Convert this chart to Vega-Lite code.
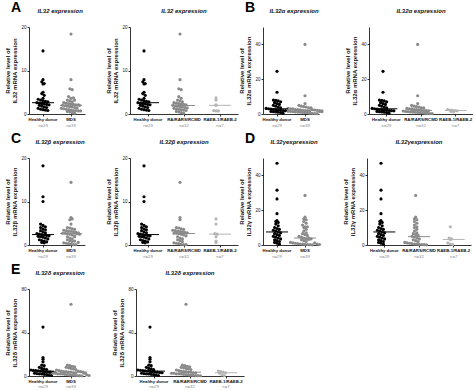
{
"$schema": "https://vega.github.io/schema/vega-lite/v6.json",
"padding": {"left": 4, "top": 1, "right": 0, "bottom": 0},
"background": "white",
"config": {
 "font": "Liberation Sans",
 "view": {"stroke": null},
 "axis": {"grid": false, "domainColor": "#000", "domainWidth": 0.8, "tickColor": "#000", "tickSize": 2, "tickWidth": 0.8, "labelFontSize": 4.5, "labelColor": "#111", "labelPadding": 1, "titleFontSize": 6, "titleFontWeight": "bold", "titleColor": "#111", "titleLineHeight": 7, "titlePadding": 3, "labelOverlap": false, "labelFlush": false},
 "axisX": {"labelAngle": 0, "labelFontSize": 4.3, "labelFontWeight": "bold", "labelBaseline": "top"}
},
"datasets": {"expr": [
{"gene":"IL32","group":"HD","v":14.5},{"gene":"IL32","group":"HD","v":7.9},{"gene":"IL32","group":"HD","v":7.4},{"gene":"IL32","group":"HD","v":7.0},{"gene":"IL32","group":"HD","v":6.9},{"gene":"IL32","group":"HD","v":5.0},{"gene":"IL32","group":"HD","v":4.7},{"gene":"IL32","group":"HD","v":4.3},{"gene":"IL32","group":"HD","v":3.6},{"gene":"IL32","group":"HD","v":3.4},{"gene":"IL32","group":"HD","v":3.2},{"gene":"IL32","group":"HD","v":3.0},{"gene":"IL32","group":"HD","v":2.9},{"gene":"IL32","group":"HD","v":2.8},{"gene":"IL32","group":"HD","v":2.6},{"gene":"IL32","group":"HD","v":2.5},{"gene":"IL32","group":"HD","v":2.4},{"gene":"IL32","group":"HD","v":2.3},{"gene":"IL32","group":"HD","v":2.2},{"gene":"IL32","group":"HD","v":2.1},{"gene":"IL32","group":"HD","v":2.0},{"gene":"IL32","group":"HD","v":1.8},{"gene":"IL32","group":"HD","v":1.6},{"gene":"IL32","group":"HD","v":1.5},{"gene":"IL32","group":"HD","v":1.3},{"gene":"IL32","group":"HD","v":1.1},{"gene":"IL32","group":"HD","v":1.0},{"gene":"IL32","group":"HD","v":0.9},{"gene":"IL32","group":"HD","v":0.8},
{"gene":"IL32","group":"RA","v":18.4},{"gene":"IL32","group":"RA","v":7.9},{"gene":"IL32","group":"RA","v":5.8},{"gene":"IL32","group":"RA","v":5.6},{"gene":"IL32","group":"RA","v":4.0},{"gene":"IL32","group":"RA","v":3.6},{"gene":"IL32","group":"RA","v":3.2},{"gene":"IL32","group":"RA","v":3.0},{"gene":"IL32","group":"RA","v":2.8},{"gene":"IL32","group":"RA","v":2.6},{"gene":"IL32","group":"RA","v":2.5},{"gene":"IL32","group":"RA","v":2.4},{"gene":"IL32","group":"RA","v":2.3},{"gene":"IL32","group":"RA","v":2.2},{"gene":"IL32","group":"RA","v":2.1},{"gene":"IL32","group":"RA","v":2.0},{"gene":"IL32","group":"RA","v":1.9},{"gene":"IL32","group":"RA","v":1.8},{"gene":"IL32","group":"RA","v":1.7},{"gene":"IL32","group":"RA","v":1.6},{"gene":"IL32","group":"RA","v":1.5},{"gene":"IL32","group":"RA","v":1.4},{"gene":"IL32","group":"RA","v":1.3},{"gene":"IL32","group":"RA","v":1.2},{"gene":"IL32","group":"RA","v":1.1},{"gene":"IL32","group":"RA","v":1.0},{"gene":"IL32","group":"RA","v":0.9},{"gene":"IL32","group":"RA","v":0.8},{"gene":"IL32","group":"RA","v":0.6},{"gene":"IL32","group":"RA","v":0.5},{"gene":"IL32","group":"RA","v":0.3},{"gene":"IL32","group":"RA","v":0.2},
{"gene":"IL32","group":"RAEB","v":3.7},{"gene":"IL32","group":"RAEB","v":3.2},{"gene":"IL32","group":"RAEB","v":2.1},{"gene":"IL32","group":"RAEB","v":2.0},{"gene":"IL32","group":"RAEB","v":0.8},{"gene":"IL32","group":"RAEB","v":0.7},{"gene":"IL32","group":"RAEB","v":0.7},
{"gene":"IL32a","group":"HD","v":24.5},{"gene":"IL32a","group":"HD","v":12.5},{"gene":"IL32a","group":"HD","v":8.0},{"gene":"IL32a","group":"HD","v":7.8},{"gene":"IL32a","group":"HD","v":7.5},{"gene":"IL32a","group":"HD","v":7.0},{"gene":"IL32a","group":"HD","v":6.5},{"gene":"IL32a","group":"HD","v":6.0},{"gene":"IL32a","group":"HD","v":5.5},{"gene":"IL32a","group":"HD","v":5.0},{"gene":"IL32a","group":"HD","v":4.5},{"gene":"IL32a","group":"HD","v":4.0},{"gene":"IL32a","group":"HD","v":3.5},{"gene":"IL32a","group":"HD","v":3.2},{"gene":"IL32a","group":"HD","v":3.0},{"gene":"IL32a","group":"HD","v":2.8},{"gene":"IL32a","group":"HD","v":2.6},{"gene":"IL32a","group":"HD","v":2.5},{"gene":"IL32a","group":"HD","v":2.3},{"gene":"IL32a","group":"HD","v":2.2},{"gene":"IL32a","group":"HD","v":2.0},{"gene":"IL32a","group":"HD","v":1.9},{"gene":"IL32a","group":"HD","v":1.8},{"gene":"IL32a","group":"HD","v":1.5},{"gene":"IL32a","group":"HD","v":1.3},{"gene":"IL32a","group":"HD","v":1.2},{"gene":"IL32a","group":"HD","v":1.0},{"gene":"IL32a","group":"HD","v":0.8},{"gene":"IL32a","group":"HD","v":0.5},
{"gene":"IL32a","group":"RA","v":40},{"gene":"IL32a","group":"RA","v":10.5},{"gene":"IL32a","group":"RA","v":6.0},{"gene":"IL32a","group":"RA","v":5.0},{"gene":"IL32a","group":"RA","v":4.5},{"gene":"IL32a","group":"RA","v":4.2},{"gene":"IL32a","group":"RA","v":4.0},{"gene":"IL32a","group":"RA","v":3.6},{"gene":"IL32a","group":"RA","v":3.5},{"gene":"IL32a","group":"RA","v":3.2},{"gene":"IL32a","group":"RA","v":3.0},{"gene":"IL32a","group":"RA","v":3.0},{"gene":"IL32a","group":"RA","v":2.6},{"gene":"IL32a","group":"RA","v":2.5},{"gene":"IL32a","group":"RA","v":2.4},{"gene":"IL32a","group":"RA","v":2.1},{"gene":"IL32a","group":"RA","v":2.0},{"gene":"IL32a","group":"RA","v":1.9},{"gene":"IL32a","group":"RA","v":1.8},{"gene":"IL32a","group":"RA","v":1.7},{"gene":"IL32a","group":"RA","v":1.5},{"gene":"IL32a","group":"RA","v":1.4},{"gene":"IL32a","group":"RA","v":1.2},{"gene":"IL32a","group":"RA","v":1.1},{"gene":"IL32a","group":"RA","v":1.0},{"gene":"IL32a","group":"RA","v":0.9},{"gene":"IL32a","group":"RA","v":0.8},{"gene":"IL32a","group":"RA","v":0.7},{"gene":"IL32a","group":"RA","v":0.5},{"gene":"IL32a","group":"RA","v":0.4},{"gene":"IL32a","group":"RA","v":0.3},{"gene":"IL32a","group":"RA","v":0.2},
{"gene":"IL32a","group":"RAEB","v":2.6},{"gene":"IL32a","group":"RAEB","v":2.3},{"gene":"IL32a","group":"RAEB","v":2.1},{"gene":"IL32a","group":"RAEB","v":2.0},{"gene":"IL32a","group":"RAEB","v":1.8},{"gene":"IL32a","group":"RAEB","v":1.5},{"gene":"IL32a","group":"RAEB","v":1.3},
{"gene":"IL32b","group":"HD","v":18.2},{"gene":"IL32b","group":"HD","v":11.1},{"gene":"IL32b","group":"HD","v":10.0},{"gene":"IL32b","group":"HD","v":4.8},{"gene":"IL32b","group":"HD","v":4.5},{"gene":"IL32b","group":"HD","v":4.2},{"gene":"IL32b","group":"HD","v":4.0},{"gene":"IL32b","group":"HD","v":3.7},{"gene":"IL32b","group":"HD","v":3.5},{"gene":"IL32b","group":"HD","v":3.3},{"gene":"IL32b","group":"HD","v":3.0},{"gene":"IL32b","group":"HD","v":2.8},{"gene":"IL32b","group":"HD","v":2.6},{"gene":"IL32b","group":"HD","v":2.5},{"gene":"IL32b","group":"HD","v":2.4},{"gene":"IL32b","group":"HD","v":2.3},{"gene":"IL32b","group":"HD","v":2.2},{"gene":"IL32b","group":"HD","v":2.1},{"gene":"IL32b","group":"HD","v":2.0},{"gene":"IL32b","group":"HD","v":1.9},{"gene":"IL32b","group":"HD","v":1.8},{"gene":"IL32b","group":"HD","v":1.6},{"gene":"IL32b","group":"HD","v":1.4},{"gene":"IL32b","group":"HD","v":1.2},{"gene":"IL32b","group":"HD","v":1.0},{"gene":"IL32b","group":"HD","v":0.9},{"gene":"IL32b","group":"HD","v":0.7},{"gene":"IL32b","group":"HD","v":0.6},{"gene":"IL32b","group":"HD","v":0.5},
{"gene":"IL32b","group":"RA","v":14.4},{"gene":"IL32b","group":"RA","v":6.3},{"gene":"IL32b","group":"RA","v":5.8},{"gene":"IL32b","group":"RA","v":4.0},{"gene":"IL32b","group":"RA","v":3.9},{"gene":"IL32b","group":"RA","v":3.7},{"gene":"IL32b","group":"RA","v":3.6},{"gene":"IL32b","group":"RA","v":3.4},{"gene":"IL32b","group":"RA","v":3.3},{"gene":"IL32b","group":"RA","v":3.2},{"gene":"IL32b","group":"RA","v":3.1},{"gene":"IL32b","group":"RA","v":3.0},{"gene":"IL32b","group":"RA","v":2.9},{"gene":"IL32b","group":"RA","v":2.8},{"gene":"IL32b","group":"RA","v":2.7},{"gene":"IL32b","group":"RA","v":2.7},{"gene":"IL32b","group":"RA","v":2.6},{"gene":"IL32b","group":"RA","v":2.5},{"gene":"IL32b","group":"RA","v":2.3},{"gene":"IL32b","group":"RA","v":2.1},{"gene":"IL32b","group":"RA","v":1.9},{"gene":"IL32b","group":"RA","v":1.6},{"gene":"IL32b","group":"RA","v":1.4},{"gene":"IL32b","group":"RA","v":1.2},{"gene":"IL32b","group":"RA","v":1.0},{"gene":"IL32b","group":"RA","v":0.8},{"gene":"IL32b","group":"RA","v":0.5},{"gene":"IL32b","group":"RA","v":0.4},{"gene":"IL32b","group":"RA","v":0.3},{"gene":"IL32b","group":"RA","v":0.2},{"gene":"IL32b","group":"RA","v":0.1},{"gene":"IL32b","group":"RA","v":0.1},
{"gene":"IL32b","group":"RAEB","v":6.0},{"gene":"IL32b","group":"RAEB","v":4.8},{"gene":"IL32b","group":"RAEB","v":2.6},{"gene":"IL32b","group":"RAEB","v":2.5},{"gene":"IL32b","group":"RAEB","v":1.9},{"gene":"IL32b","group":"RAEB","v":0.9},{"gene":"IL32b","group":"RAEB","v":0.6},
{"gene":"IL32g","group":"HD","v":47},{"gene":"IL32g","group":"HD","v":31.5},{"gene":"IL32g","group":"HD","v":26.5},{"gene":"IL32g","group":"HD","v":18},{"gene":"IL32g","group":"HD","v":14},{"gene":"IL32g","group":"HD","v":13.5},{"gene":"IL32g","group":"HD","v":13},{"gene":"IL32g","group":"HD","v":12},{"gene":"IL32g","group":"HD","v":11},{"gene":"IL32g","group":"HD","v":10},{"gene":"IL32g","group":"HD","v":9.5},{"gene":"IL32g","group":"HD","v":9},{"gene":"IL32g","group":"HD","v":8.5},{"gene":"IL32g","group":"HD","v":8},{"gene":"IL32g","group":"HD","v":7.5},{"gene":"IL32g","group":"HD","v":7},{"gene":"IL32g","group":"HD","v":6.5},{"gene":"IL32g","group":"HD","v":6},{"gene":"IL32g","group":"HD","v":5.5},{"gene":"IL32g","group":"HD","v":5},{"gene":"IL32g","group":"HD","v":4.5},{"gene":"IL32g","group":"HD","v":4},{"gene":"IL32g","group":"HD","v":3.5},{"gene":"IL32g","group":"HD","v":3},{"gene":"IL32g","group":"HD","v":2.5},{"gene":"IL32g","group":"HD","v":2},{"gene":"IL32g","group":"HD","v":1.5},{"gene":"IL32g","group":"HD","v":1},{"gene":"IL32g","group":"HD","v":0.5},
{"gene":"IL32g","group":"RA","v":28.5},{"gene":"IL32g","group":"RA","v":16},{"gene":"IL32g","group":"RA","v":15},{"gene":"IL32g","group":"RA","v":14.5},{"gene":"IL32g","group":"RA","v":13.5},{"gene":"IL32g","group":"RA","v":12.5},{"gene":"IL32g","group":"RA","v":11.5},{"gene":"IL32g","group":"RA","v":10.5},{"gene":"IL32g","group":"RA","v":10},{"gene":"IL32g","group":"RA","v":9},{"gene":"IL32g","group":"RA","v":8},{"gene":"IL32g","group":"RA","v":7},{"gene":"IL32g","group":"RA","v":6.5},{"gene":"IL32g","group":"RA","v":6},{"gene":"IL32g","group":"RA","v":5.5},{"gene":"IL32g","group":"RA","v":5},{"gene":"IL32g","group":"RA","v":4.6},{"gene":"IL32g","group":"RA","v":4},{"gene":"IL32g","group":"RA","v":3.5},{"gene":"IL32g","group":"RA","v":3},{"gene":"IL32g","group":"RA","v":2.5},{"gene":"IL32g","group":"RA","v":2},{"gene":"IL32g","group":"RA","v":1.5},{"gene":"IL32g","group":"RA","v":1.2},{"gene":"IL32g","group":"RA","v":1},{"gene":"IL32g","group":"RA","v":0.8},{"gene":"IL32g","group":"RA","v":0.6},{"gene":"IL32g","group":"RA","v":0.5},{"gene":"IL32g","group":"RA","v":0.4},{"gene":"IL32g","group":"RA","v":0.3},{"gene":"IL32g","group":"RA","v":0.2},{"gene":"IL32g","group":"RA","v":0.1},
{"gene":"IL32g","group":"RAEB","v":10.5},{"gene":"IL32g","group":"RAEB","v":4},{"gene":"IL32g","group":"RAEB","v":3.5},{"gene":"IL32g","group":"RAEB","v":3.2},{"gene":"IL32g","group":"RAEB","v":1.2},{"gene":"IL32g","group":"RAEB","v":0.6},{"gene":"IL32g","group":"RAEB","v":0.3},
{"gene":"IL32d","group":"HD","v":45},{"gene":"IL32d","group":"HD","v":17},{"gene":"IL32d","group":"HD","v":15.5},{"gene":"IL32d","group":"HD","v":13},{"gene":"IL32d","group":"HD","v":10},{"gene":"IL32d","group":"HD","v":9.5},{"gene":"IL32d","group":"HD","v":8},{"gene":"IL32d","group":"HD","v":7},{"gene":"IL32d","group":"HD","v":6.5},{"gene":"IL32d","group":"HD","v":6},{"gene":"IL32d","group":"HD","v":5.5},{"gene":"IL32d","group":"HD","v":5.2},{"gene":"IL32d","group":"HD","v":5},{"gene":"IL32d","group":"HD","v":4.8},{"gene":"IL32d","group":"HD","v":4.5},{"gene":"IL32d","group":"HD","v":4.2},{"gene":"IL32d","group":"HD","v":4},{"gene":"IL32d","group":"HD","v":3.8},{"gene":"IL32d","group":"HD","v":3.5},{"gene":"IL32d","group":"HD","v":3.2},{"gene":"IL32d","group":"HD","v":3},{"gene":"IL32d","group":"HD","v":2.5},{"gene":"IL32d","group":"HD","v":2.2},{"gene":"IL32d","group":"HD","v":2},{"gene":"IL32d","group":"HD","v":1.8},{"gene":"IL32d","group":"HD","v":1.5},{"gene":"IL32d","group":"HD","v":1.2},{"gene":"IL32d","group":"HD","v":1},{"gene":"IL32d","group":"HD","v":0.5},
{"gene":"IL32d","group":"RA","v":66},{"gene":"IL32d","group":"RA","v":10},{"gene":"IL32d","group":"RA","v":9.5},{"gene":"IL32d","group":"RA","v":9},{"gene":"IL32d","group":"RA","v":8.5},{"gene":"IL32d","group":"RA","v":8},{"gene":"IL32d","group":"RA","v":7.5},{"gene":"IL32d","group":"RA","v":7},{"gene":"IL32d","group":"RA","v":6.5},{"gene":"IL32d","group":"RA","v":6},{"gene":"IL32d","group":"RA","v":5.5},{"gene":"IL32d","group":"RA","v":5},{"gene":"IL32d","group":"RA","v":4.5},{"gene":"IL32d","group":"RA","v":4},{"gene":"IL32d","group":"RA","v":4},{"gene":"IL32d","group":"RA","v":3.5},{"gene":"IL32d","group":"RA","v":3.5},{"gene":"IL32d","group":"RA","v":3},{"gene":"IL32d","group":"RA","v":3},{"gene":"IL32d","group":"RA","v":2.5},{"gene":"IL32d","group":"RA","v":2.5},{"gene":"IL32d","group":"RA","v":2},{"gene":"IL32d","group":"RA","v":2},{"gene":"IL32d","group":"RA","v":1.8},{"gene":"IL32d","group":"RA","v":1.5},{"gene":"IL32d","group":"RA","v":1.2},{"gene":"IL32d","group":"RA","v":1},{"gene":"IL32d","group":"RA","v":0.8},{"gene":"IL32d","group":"RA","v":0.6},{"gene":"IL32d","group":"RA","v":0.5},{"gene":"IL32d","group":"RA","v":0.3},{"gene":"IL32d","group":"RA","v":0.2},
{"gene":"IL32d","group":"RAEB","v":4.5},{"gene":"IL32d","group":"RAEB","v":4},{"gene":"IL32d","group":"RAEB","v":3.5},{"gene":"IL32d","group":"RAEB","v":3},{"gene":"IL32d","group":"RAEB","v":2.5},{"gene":"IL32d","group":"RAEB","v":1},{"gene":"IL32d","group":"RAEB","v":0.5}
]},
"vconcat": [
 {"hconcat": [
  {"hconcat": [
    {"width": 56, "height": 87, "data": {"name": "expr"},
     "transform": [{"filter": "datum.gene == 'IL32'"}, {"calculate": "datum.group == 'HD' ? 'HD' : 'MDS'", "as": "g"}, {"calculate": "floor(datum.v / 0.7)", "as": "bin"}, {"window": [{"op": "row_number", "as": "k"}, {"op": "count", "as": "n"}], "groupby": ["g", "bin"], "frame": [null, null]}, {"calculate": "datum.k - (datum.n + 1) / 2", "as": "off"}],
     "encoding": {"x": {"field": "g", "type": "nominal", "sort": ["HD", "MDS"], "scale": {"paddingInner": 0, "paddingOuter": 0}, "axis": {"title": null, "labelExpr": "datum.value == 'HD' ? 'Healthy donor' : datum.value == 'MDS' ? 'MDS' : datum.value == 'RA' ? 'RA/RARS/RCMD' : 'RAEB-1/RAEB-2'"}},
      "color": {"field": "g", "type": "nominal", "legend": null, "scale": {"domain": ["HD", "MDS", "RA", "RAEB"], "range": ["#000000", "#8a8a8a", "#8a8a8a", "#b5b5b5"]}}},
     "layer": [
      {"mark": {"type": "circle", "size": 10, "opacity": 1}, "encoding": {"xOffset": {"field": "off", "type": "quantitative", "scale": {"domain": [-4.5, 4.5], "nice": false, "zero": false}}, "y": {"field": "v", "type": "quantitative", "scale": {"domain": [0, 20], "nice": false}, "axis": {"values": [0, 5, 10, 15, 20], "title": ["Relative level of", "IL32 mRNA expression"]}}}},
      {"mark": {"type": "tick", "size": 22, "thickness": 1}, "encoding": {"y": {"aggregate": "median", "field": "v", "type": "quantitative", "axis": {"values": [0, 5, 10, 15, 20], "title": ["Relative level of", "IL32 mRNA expression"]}}}},
      {"transform": [{"aggregate": [{"op": "count", "as": "cnt"}], "groupby": ["g"]}, {"calculate": "'n=' + datum.cnt", "as": "lab"}], "mark": {"type": "text", "fontSize": 4.3, "baseline": "top", "clip": false}, "encoding": {"y": {"datum": -2.2}, "text": {"field": "lab"}, "color": {"value": "#8c8c8c"}}},
      {"transform": [{"aggregate": [{"op": "count", "as": "c"}]}], "mark": {"type": "text", "fontSize": 6, "fontStyle": "italic", "fontWeight": "bold", "baseline": "middle", "clip": false}, "encoding": {"x": {"datum": "MDS"}, "xOffset": {"datum": -4.5}, "y": {"datum": 23.7}, "text": {"value": "IL32 expression"}, "color": {"value": "#111"}}},
      {"transform": [{"aggregate": [{"op": "count", "as": "c"}]}], "mark": {"type": "text", "fontSize": 14, "fontWeight": "bold", "align": "left", "baseline": "alphabetic", "clip": false}, "encoding": {"x": {"datum": "HD"}, "xOffset": {"datum": -13.3}, "y": {"datum": 23.4}, "text": {"value": "A"}, "color": {"value": "#000"}}}
     ]},
    {"width": 108, "height": 87, "data": {"name": "expr"},
     "transform": [{"filter": "datum.gene == 'IL32'"}, {"calculate": "datum.group", "as": "g"}, {"calculate": "floor(datum.v / 0.7)", "as": "bin"}, {"window": [{"op": "row_number", "as": "k"}, {"op": "count", "as": "n"}], "groupby": ["g", "bin"], "frame": [null, null]}, {"calculate": "datum.k - (datum.n + 1) / 2", "as": "off"}],
     "encoding": {"x": {"field": "g", "type": "nominal", "sort": ["HD", "RA", "RAEB"], "scale": {"paddingInner": 0, "paddingOuter": 0}, "axis": {"title": null, "labelExpr": "datum.value == 'HD' ? 'Healthy donor' : datum.value == 'MDS' ? 'MDS' : datum.value == 'RA' ? 'RA/RARS/RCMD' : 'RAEB-1/RAEB-2'"}},
      "color": {"field": "g", "type": "nominal", "legend": null, "scale": {"domain": ["HD", "MDS", "RA", "RAEB"], "range": ["#000000", "#8a8a8a", "#8a8a8a", "#b5b5b5"]}}},
     "layer": [
      {"mark": {"type": "circle", "size": 10, "opacity": 1}, "encoding": {"xOffset": {"field": "off", "type": "quantitative", "scale": {"domain": [-5.8, 5.8], "nice": false, "zero": false}}, "y": {"field": "v", "type": "quantitative", "scale": {"domain": [0, 20], "nice": false}, "axis": {"values": [0, 5, 10, 15, 20], "title": ["Relative level of", "IL32 mRNA expression"]}}}},
      {"mark": {"type": "tick", "size": 22, "thickness": 1}, "encoding": {"y": {"aggregate": "median", "field": "v", "type": "quantitative", "axis": {"values": [0, 5, 10, 15, 20], "title": ["Relative level of", "IL32 mRNA expression"]}}}},
      {"transform": [{"aggregate": [{"op": "count", "as": "cnt"}], "groupby": ["g"]}, {"calculate": "'n=' + datum.cnt", "as": "lab"}], "mark": {"type": "text", "fontSize": 4.3, "baseline": "top", "clip": false}, "encoding": {"y": {"datum": -2.2}, "text": {"field": "lab"}, "color": {"value": "#8c8c8c"}}},
      {"transform": [{"aggregate": [{"op": "count", "as": "c"}]}], "mark": {"type": "text", "fontSize": 6, "fontStyle": "italic", "fontWeight": "bold", "baseline": "middle", "clip": false}, "encoding": {"x": {"datum": "RA"}, "y": {"datum": 23.7}, "text": {"value": "IL32 expression"}, "color": {"value": "#111"}}}
     ]}
   ], "spacing": 20},
  {"hconcat": [
    {"width": 56, "height": 87, "data": {"name": "expr"},
     "transform": [{"filter": "datum.gene == 'IL32a'"}, {"calculate": "datum.group == 'HD' ? 'HD' : 'MDS'", "as": "g"}, {"calculate": "floor(datum.v / 1.75)", "as": "bin"}, {"window": [{"op": "row_number", "as": "k"}, {"op": "count", "as": "n"}], "groupby": ["g", "bin"], "frame": [null, null]}, {"calculate": "datum.k - (datum.n + 1) / 2", "as": "off"}],
     "encoding": {"x": {"field": "g", "type": "nominal", "sort": ["HD", "MDS"], "scale": {"paddingInner": 0, "paddingOuter": 0}, "axis": {"title": null, "labelExpr": "datum.value == 'HD' ? 'Healthy donor' : datum.value == 'MDS' ? 'MDS' : datum.value == 'RA' ? 'RA/RARS/RCMD' : 'RAEB-1/RAEB-2'"}},
      "color": {"field": "g", "type": "nominal", "legend": null, "scale": {"domain": ["HD", "MDS", "RA", "RAEB"], "range": ["#000000", "#8a8a8a", "#8a8a8a", "#b5b5b5"]}}},
     "layer": [
      {"mark": {"type": "circle", "size": 10, "opacity": 1}, "encoding": {"xOffset": {"field": "off", "type": "quantitative", "scale": {"domain": [-4.5, 4.5], "nice": false, "zero": false}}, "y": {"field": "v", "type": "quantitative", "scale": {"domain": [0, 50], "nice": false}, "axis": {"values": [0, 10, 20, 30, 40, 50], "title": ["Relative level of", "IL32α mRNA expression"]}}}},
      {"mark": {"type": "tick", "size": 22, "thickness": 1}, "encoding": {"y": {"aggregate": "median", "field": "v", "type": "quantitative", "axis": {"values": [0, 10, 20, 30, 40, 50], "title": ["Relative level of", "IL32α mRNA expression"]}}}},
      {"transform": [{"aggregate": [{"op": "count", "as": "cnt"}], "groupby": ["g"]}, {"calculate": "'n=' + datum.cnt", "as": "lab"}], "mark": {"type": "text", "fontSize": 4.3, "baseline": "top", "clip": false}, "encoding": {"y": {"datum": -5.5}, "text": {"field": "lab"}, "color": {"value": "#8c8c8c"}}},
      {"transform": [{"aggregate": [{"op": "count", "as": "c"}]}], "mark": {"type": "text", "fontSize": 6, "fontStyle": "italic", "fontWeight": "bold", "baseline": "middle", "clip": false}, "encoding": {"x": {"datum": "MDS"}, "xOffset": {"datum": -4.5}, "y": {"datum": 59.2}, "text": {"value": "IL32α expression"}, "color": {"value": "#111"}}},
      {"transform": [{"aggregate": [{"op": "count", "as": "c"}]}], "mark": {"type": "text", "fontSize": 14, "fontWeight": "bold", "align": "left", "baseline": "alphabetic", "clip": false}, "encoding": {"x": {"datum": "HD"}, "xOffset": {"datum": -13.3}, "y": {"datum": 58.5}, "text": {"value": "B"}, "color": {"value": "#000"}}}
     ]},
    {"width": 104, "height": 87, "data": {"name": "expr"},
     "transform": [{"filter": "datum.gene == 'IL32a'"}, {"calculate": "datum.group", "as": "g"}, {"calculate": "floor(datum.v / 1.75)", "as": "bin"}, {"window": [{"op": "row_number", "as": "k"}, {"op": "count", "as": "n"}], "groupby": ["g", "bin"], "frame": [null, null]}, {"calculate": "datum.k - (datum.n + 1) / 2", "as": "off"}],
     "encoding": {"x": {"field": "g", "type": "nominal", "sort": ["HD", "RA", "RAEB"], "scale": {"paddingInner": 0, "paddingOuter": 0}, "axis": {"title": null, "labelExpr": "datum.value == 'HD' ? 'Healthy donor' : datum.value == 'MDS' ? 'MDS' : datum.value == 'RA' ? 'RA/RARS/RCMD' : 'RAEB-1/RAEB-2'"}},
      "color": {"field": "g", "type": "nominal", "legend": null, "scale": {"domain": ["HD", "MDS", "RA", "RAEB"], "range": ["#000000", "#8a8a8a", "#8a8a8a", "#b5b5b5"]}}},
     "layer": [
      {"mark": {"type": "circle", "size": 10, "opacity": 1}, "encoding": {"xOffset": {"field": "off", "type": "quantitative", "scale": {"domain": [-5.6, 5.6], "nice": false, "zero": false}}, "y": {"field": "v", "type": "quantitative", "scale": {"domain": [0, 50], "nice": false}, "axis": {"values": [0, 10, 20, 30, 40, 50], "title": ["Relative level of", "IL32α mRNA expression"]}}}},
      {"mark": {"type": "tick", "size": 22, "thickness": 1}, "encoding": {"y": {"aggregate": "median", "field": "v", "type": "quantitative", "axis": {"values": [0, 10, 20, 30, 40, 50], "title": ["Relative level of", "IL32α mRNA expression"]}}}},
      {"transform": [{"aggregate": [{"op": "count", "as": "cnt"}], "groupby": ["g"]}, {"calculate": "'n=' + datum.cnt", "as": "lab"}], "mark": {"type": "text", "fontSize": 4.3, "baseline": "top", "clip": false}, "encoding": {"y": {"datum": -5.5}, "text": {"field": "lab"}, "color": {"value": "#8c8c8c"}}},
      {"transform": [{"aggregate": [{"op": "count", "as": "c"}]}], "mark": {"type": "text", "fontSize": 6, "fontStyle": "italic", "fontWeight": "bold", "baseline": "middle", "clip": false}, "encoding": {"x": {"datum": "RA"}, "y": {"datum": 59.2}, "text": {"value": "IL32α expression"}, "color": {"value": "#111"}}}
     ]}
   ], "spacing": 20}
 ], "spacing": 0},
 {"hconcat": [
  {"hconcat": [
    {"width": 56, "height": 87, "data": {"name": "expr"},
     "transform": [{"filter": "datum.gene == 'IL32b'"}, {"calculate": "datum.group == 'HD' ? 'HD' : 'MDS'", "as": "g"}, {"calculate": "floor(datum.v / 0.7)", "as": "bin"}, {"window": [{"op": "row_number", "as": "k"}, {"op": "count", "as": "n"}], "groupby": ["g", "bin"], "frame": [null, null]}, {"calculate": "datum.k - (datum.n + 1) / 2", "as": "off"}],
     "encoding": {"x": {"field": "g", "type": "nominal", "sort": ["HD", "MDS"], "scale": {"paddingInner": 0, "paddingOuter": 0}, "axis": {"title": null, "labelExpr": "datum.value == 'HD' ? 'Healthy donor' : datum.value == 'MDS' ? 'MDS' : datum.value == 'RA' ? 'RA/RARS/RCMD' : 'RAEB-1/RAEB-2'"}},
      "color": {"field": "g", "type": "nominal", "legend": null, "scale": {"domain": ["HD", "MDS", "RA", "RAEB"], "range": ["#000000", "#8a8a8a", "#8a8a8a", "#b5b5b5"]}}},
     "layer": [
      {"mark": {"type": "circle", "size": 10, "opacity": 1}, "encoding": {"xOffset": {"field": "off", "type": "quantitative", "scale": {"domain": [-4.5, 4.5], "nice": false, "zero": false}}, "y": {"field": "v", "type": "quantitative", "scale": {"domain": [0, 20], "nice": false}, "axis": {"values": [0, 5, 10, 15, 20], "title": ["Relative level of", "IL32β mRNA expression"]}}}},
      {"mark": {"type": "tick", "size": 22, "thickness": 1}, "encoding": {"y": {"aggregate": "median", "field": "v", "type": "quantitative", "axis": {"values": [0, 5, 10, 15, 20], "title": ["Relative level of", "IL32β mRNA expression"]}}}},
      {"transform": [{"aggregate": [{"op": "count", "as": "cnt"}], "groupby": ["g"]}, {"calculate": "'n=' + datum.cnt", "as": "lab"}], "mark": {"type": "text", "fontSize": 4.3, "baseline": "top", "clip": false}, "encoding": {"y": {"datum": -2.2}, "text": {"field": "lab"}, "color": {"value": "#8c8c8c"}}},
      {"transform": [{"aggregate": [{"op": "count", "as": "c"}]}], "mark": {"type": "text", "fontSize": 6, "fontStyle": "italic", "fontWeight": "bold", "baseline": "middle", "clip": false}, "encoding": {"x": {"datum": "MDS"}, "xOffset": {"datum": -4.5}, "y": {"datum": 23.7}, "text": {"value": "IL32β expression"}, "color": {"value": "#111"}}},
      {"transform": [{"aggregate": [{"op": "count", "as": "c"}]}], "mark": {"type": "text", "fontSize": 14, "fontWeight": "bold", "align": "left", "baseline": "alphabetic", "clip": false}, "encoding": {"x": {"datum": "HD"}, "xOffset": {"datum": -13.3}, "y": {"datum": 23.4}, "text": {"value": "C"}, "color": {"value": "#000"}}}
     ]},
    {"width": 108, "height": 87, "data": {"name": "expr"},
     "transform": [{"filter": "datum.gene == 'IL32b'"}, {"calculate": "datum.group", "as": "g"}, {"calculate": "floor(datum.v / 0.7)", "as": "bin"}, {"window": [{"op": "row_number", "as": "k"}, {"op": "count", "as": "n"}], "groupby": ["g", "bin"], "frame": [null, null]}, {"calculate": "datum.k - (datum.n + 1) / 2", "as": "off"}],
     "encoding": {"x": {"field": "g", "type": "nominal", "sort": ["HD", "RA", "RAEB"], "scale": {"paddingInner": 0, "paddingOuter": 0}, "axis": {"title": null, "labelExpr": "datum.value == 'HD' ? 'Healthy donor' : datum.value == 'MDS' ? 'MDS' : datum.value == 'RA' ? 'RA/RARS/RCMD' : 'RAEB-1/RAEB-2'"}},
      "color": {"field": "g", "type": "nominal", "legend": null, "scale": {"domain": ["HD", "MDS", "RA", "RAEB"], "range": ["#000000", "#8a8a8a", "#8a8a8a", "#b5b5b5"]}}},
     "layer": [
      {"mark": {"type": "circle", "size": 10, "opacity": 1}, "encoding": {"xOffset": {"field": "off", "type": "quantitative", "scale": {"domain": [-5.8, 5.8], "nice": false, "zero": false}}, "y": {"field": "v", "type": "quantitative", "scale": {"domain": [0, 20], "nice": false}, "axis": {"values": [0, 5, 10, 15, 20], "title": ["Relative level of", "IL32β mRNA expression"]}}}},
      {"mark": {"type": "tick", "size": 22, "thickness": 1}, "encoding": {"y": {"aggregate": "median", "field": "v", "type": "quantitative", "axis": {"values": [0, 5, 10, 15, 20], "title": ["Relative level of", "IL32β mRNA expression"]}}}},
      {"transform": [{"aggregate": [{"op": "count", "as": "cnt"}], "groupby": ["g"]}, {"calculate": "'n=' + datum.cnt", "as": "lab"}], "mark": {"type": "text", "fontSize": 4.3, "baseline": "top", "clip": false}, "encoding": {"y": {"datum": -2.2}, "text": {"field": "lab"}, "color": {"value": "#8c8c8c"}}},
      {"transform": [{"aggregate": [{"op": "count", "as": "c"}]}], "mark": {"type": "text", "fontSize": 6, "fontStyle": "italic", "fontWeight": "bold", "baseline": "middle", "clip": false}, "encoding": {"x": {"datum": "RA"}, "y": {"datum": 23.7}, "text": {"value": "IL32β expression"}, "color": {"value": "#111"}}}
     ]}
   ], "spacing": 20},
  {"hconcat": [
    {"width": 56, "height": 87, "data": {"name": "expr"},
     "transform": [{"filter": "datum.gene == 'IL32g'"}, {"calculate": "datum.group == 'HD' ? 'HD' : 'MDS'", "as": "g"}, {"calculate": "floor(datum.v / 1.75)", "as": "bin"}, {"window": [{"op": "row_number", "as": "k"}, {"op": "count", "as": "n"}], "groupby": ["g", "bin"], "frame": [null, null]}, {"calculate": "datum.k - (datum.n + 1) / 2", "as": "off"}],
     "encoding": {"x": {"field": "g", "type": "nominal", "sort": ["HD", "MDS"], "scale": {"paddingInner": 0, "paddingOuter": 0}, "axis": {"title": null, "labelExpr": "datum.value == 'HD' ? 'Healthy donor' : datum.value == 'MDS' ? 'MDS' : datum.value == 'RA' ? 'RA/RARS/RCMD' : 'RAEB-1/RAEB-2'"}},
      "color": {"field": "g", "type": "nominal", "legend": null, "scale": {"domain": ["HD", "MDS", "RA", "RAEB"], "range": ["#000000", "#8a8a8a", "#8a8a8a", "#b5b5b5"]}}},
     "layer": [
      {"mark": {"type": "circle", "size": 10, "opacity": 1}, "encoding": {"xOffset": {"field": "off", "type": "quantitative", "scale": {"domain": [-4.5, 4.5], "nice": false, "zero": false}}, "y": {"field": "v", "type": "quantitative", "scale": {"domain": [0, 50], "nice": false}, "axis": {"values": [0, 10, 20, 30, 40, 50], "title": ["Relative level of", "IL32γ mRNA expression"]}}}},
      {"mark": {"type": "tick", "size": 22, "thickness": 1}, "encoding": {"y": {"aggregate": "median", "field": "v", "type": "quantitative", "axis": {"values": [0, 10, 20, 30, 40, 50], "title": ["Relative level of", "IL32γ mRNA expression"]}}}},
      {"transform": [{"aggregate": [{"op": "count", "as": "cnt"}], "groupby": ["g"]}, {"calculate": "'n=' + datum.cnt", "as": "lab"}], "mark": {"type": "text", "fontSize": 4.3, "baseline": "top", "clip": false}, "encoding": {"y": {"datum": -5.5}, "text": {"field": "lab"}, "color": {"value": "#8c8c8c"}}},
      {"transform": [{"aggregate": [{"op": "count", "as": "c"}]}], "mark": {"type": "text", "fontSize": 6, "fontStyle": "italic", "fontWeight": "bold", "baseline": "middle", "clip": false}, "encoding": {"x": {"datum": "MDS"}, "xOffset": {"datum": -4.5}, "y": {"datum": 59.2}, "text": {"value": "IL32γexpression"}, "color": {"value": "#111"}}},
      {"transform": [{"aggregate": [{"op": "count", "as": "c"}]}], "mark": {"type": "text", "fontSize": 14, "fontWeight": "bold", "align": "left", "baseline": "alphabetic", "clip": false}, "encoding": {"x": {"datum": "HD"}, "xOffset": {"datum": -13.3}, "y": {"datum": 58.5}, "text": {"value": "D"}, "color": {"value": "#000"}}}
     ]},
    {"width": 104, "height": 87, "data": {"name": "expr"},
     "transform": [{"filter": "datum.gene == 'IL32g'"}, {"calculate": "datum.group", "as": "g"}, {"calculate": "floor(datum.v / 1.75)", "as": "bin"}, {"window": [{"op": "row_number", "as": "k"}, {"op": "count", "as": "n"}], "groupby": ["g", "bin"], "frame": [null, null]}, {"calculate": "datum.k - (datum.n + 1) / 2", "as": "off"}],
     "encoding": {"x": {"field": "g", "type": "nominal", "sort": ["HD", "RA", "RAEB"], "scale": {"paddingInner": 0, "paddingOuter": 0}, "axis": {"title": null, "labelExpr": "datum.value == 'HD' ? 'Healthy donor' : datum.value == 'MDS' ? 'MDS' : datum.value == 'RA' ? 'RA/RARS/RCMD' : 'RAEB-1/RAEB-2'"}},
      "color": {"field": "g", "type": "nominal", "legend": null, "scale": {"domain": ["HD", "MDS", "RA", "RAEB"], "range": ["#000000", "#8a8a8a", "#8a8a8a", "#b5b5b5"]}}},
     "layer": [
      {"mark": {"type": "circle", "size": 10, "opacity": 1}, "encoding": {"xOffset": {"field": "off", "type": "quantitative", "scale": {"domain": [-5.6, 5.6], "nice": false, "zero": false}}, "y": {"field": "v", "type": "quantitative", "scale": {"domain": [0, 50], "nice": false}, "axis": {"values": [0, 10, 20, 30, 40, 50], "title": ["Relative level of", "IL32γ mRNA expression"]}}}},
      {"mark": {"type": "tick", "size": 22, "thickness": 1}, "encoding": {"y": {"aggregate": "median", "field": "v", "type": "quantitative", "axis": {"values": [0, 10, 20, 30, 40, 50], "title": ["Relative level of", "IL32γ mRNA expression"]}}}},
      {"transform": [{"aggregate": [{"op": "count", "as": "cnt"}], "groupby": ["g"]}, {"calculate": "'n=' + datum.cnt", "as": "lab"}], "mark": {"type": "text", "fontSize": 4.3, "baseline": "top", "clip": false}, "encoding": {"y": {"datum": -5.5}, "text": {"field": "lab"}, "color": {"value": "#8c8c8c"}}},
      {"transform": [{"aggregate": [{"op": "count", "as": "c"}]}], "mark": {"type": "text", "fontSize": 6, "fontStyle": "italic", "fontWeight": "bold", "baseline": "middle", "clip": false}, "encoding": {"x": {"datum": "RA"}, "y": {"datum": 59.2}, "text": {"value": "IL32γexpression"}, "color": {"value": "#111"}}}
     ]}
   ], "spacing": 20}
 ], "spacing": 0},
 {"hconcat": [
    {"width": 56, "height": 87, "data": {"name": "expr"},
     "transform": [{"filter": "datum.gene == 'IL32d'"}, {"calculate": "datum.group == 'HD' ? 'HD' : 'MDS'", "as": "g"}, {"calculate": "floor(datum.v / 2.8)", "as": "bin"}, {"window": [{"op": "row_number", "as": "k"}, {"op": "count", "as": "n"}], "groupby": ["g", "bin"], "frame": [null, null]}, {"calculate": "datum.k - (datum.n + 1) / 2", "as": "off"}],
     "encoding": {"x": {"field": "g", "type": "nominal", "sort": ["HD", "MDS"], "scale": {"paddingInner": 0, "paddingOuter": 0}, "axis": {"title": null, "labelExpr": "datum.value == 'HD' ? 'Healthy donor' : datum.value == 'MDS' ? 'MDS' : datum.value == 'RA' ? 'RA/RARS/RCMD' : 'RAEB-1/RAEB-2'"}},
      "color": {"field": "g", "type": "nominal", "legend": null, "scale": {"domain": ["HD", "MDS", "RA", "RAEB"], "range": ["#000000", "#8a8a8a", "#8a8a8a", "#b5b5b5"]}}},
     "layer": [
      {"mark": {"type": "circle", "size": 10, "opacity": 1}, "encoding": {"xOffset": {"field": "off", "type": "quantitative", "scale": {"domain": [-4.5, 4.5], "nice": false, "zero": false}}, "y": {"field": "v", "type": "quantitative", "scale": {"domain": [0, 80], "nice": false}, "axis": {"values": [0, 20, 40, 60, 80], "title": ["Relative level of", "IL32δ mRNA expression"]}}}},
      {"mark": {"type": "tick", "size": 22, "thickness": 1}, "encoding": {"y": {"aggregate": "median", "field": "v", "type": "quantitative", "axis": {"values": [0, 20, 40, 60, 80], "title": ["Relative level of", "IL32δ mRNA expression"]}}}},
      {"transform": [{"aggregate": [{"op": "count", "as": "cnt"}], "groupby": ["g"]}, {"calculate": "'n=' + datum.cnt", "as": "lab"}], "mark": {"type": "text", "fontSize": 4.3, "baseline": "top", "clip": false}, "encoding": {"y": {"datum": -8.7}, "text": {"field": "lab"}, "color": {"value": "#8c8c8c"}}},
      {"transform": [{"aggregate": [{"op": "count", "as": "c"}]}], "mark": {"type": "text", "fontSize": 6, "fontStyle": "italic", "fontWeight": "bold", "baseline": "middle", "clip": false}, "encoding": {"x": {"datum": "MDS"}, "xOffset": {"datum": -4.5}, "y": {"datum": 94.7}, "text": {"value": "IL32δ expression"}, "color": {"value": "#111"}}},
      {"transform": [{"aggregate": [{"op": "count", "as": "c"}]}], "mark": {"type": "text", "fontSize": 14, "fontWeight": "bold", "align": "left", "baseline": "alphabetic", "clip": false}, "encoding": {"x": {"datum": "HD"}, "xOffset": {"datum": -13.3}, "y": {"datum": 93.6}, "text": {"value": "E"}, "color": {"value": "#000"}}}
     ]},
    {"width": 108, "height": 87, "data": {"name": "expr"},
     "transform": [{"filter": "datum.gene == 'IL32d'"}, {"calculate": "datum.group", "as": "g"}, {"calculate": "floor(datum.v / 2.8)", "as": "bin"}, {"window": [{"op": "row_number", "as": "k"}, {"op": "count", "as": "n"}], "groupby": ["g", "bin"], "frame": [null, null]}, {"calculate": "datum.k - (datum.n + 1) / 2", "as": "off"}],
     "encoding": {"x": {"field": "g", "type": "nominal", "sort": ["HD", "RA", "RAEB"], "scale": {"paddingInner": 0, "paddingOuter": 0}, "axis": {"title": null, "labelExpr": "datum.value == 'HD' ? 'Healthy donor' : datum.value == 'MDS' ? 'MDS' : datum.value == 'RA' ? 'RA/RARS/RCMD' : 'RAEB-1/RAEB-2'"}},
      "color": {"field": "g", "type": "nominal", "legend": null, "scale": {"domain": ["HD", "MDS", "RA", "RAEB"], "range": ["#000000", "#8a8a8a", "#8a8a8a", "#b5b5b5"]}}},
     "layer": [
      {"mark": {"type": "circle", "size": 10, "opacity": 1}, "encoding": {"xOffset": {"field": "off", "type": "quantitative", "scale": {"domain": [-5.8, 5.8], "nice": false, "zero": false}}, "y": {"field": "v", "type": "quantitative", "scale": {"domain": [0, 80], "nice": false}, "axis": {"values": [0, 20, 40, 60, 80], "title": ["Relative level of", "IL32δ mRNA expression"]}}}},
      {"mark": {"type": "tick", "size": 22, "thickness": 1}, "encoding": {"y": {"aggregate": "median", "field": "v", "type": "quantitative", "axis": {"values": [0, 20, 40, 60, 80], "title": ["Relative level of", "IL32δ mRNA expression"]}}}},
      {"transform": [{"aggregate": [{"op": "count", "as": "cnt"}], "groupby": ["g"]}, {"calculate": "'n=' + datum.cnt", "as": "lab"}], "mark": {"type": "text", "fontSize": 4.3, "baseline": "top", "clip": false}, "encoding": {"y": {"datum": -8.7}, "text": {"field": "lab"}, "color": {"value": "#8c8c8c"}}},
      {"transform": [{"aggregate": [{"op": "count", "as": "c"}]}], "mark": {"type": "text", "fontSize": 6, "fontStyle": "italic", "fontWeight": "bold", "baseline": "middle", "clip": false}, "encoding": {"x": {"datum": "RA"}, "y": {"datum": 94.7}, "text": {"value": "IL32δ expression"}, "color": {"value": "#111"}}}
     ]}
 ], "spacing": 20}
],
"spacing": 4
}
